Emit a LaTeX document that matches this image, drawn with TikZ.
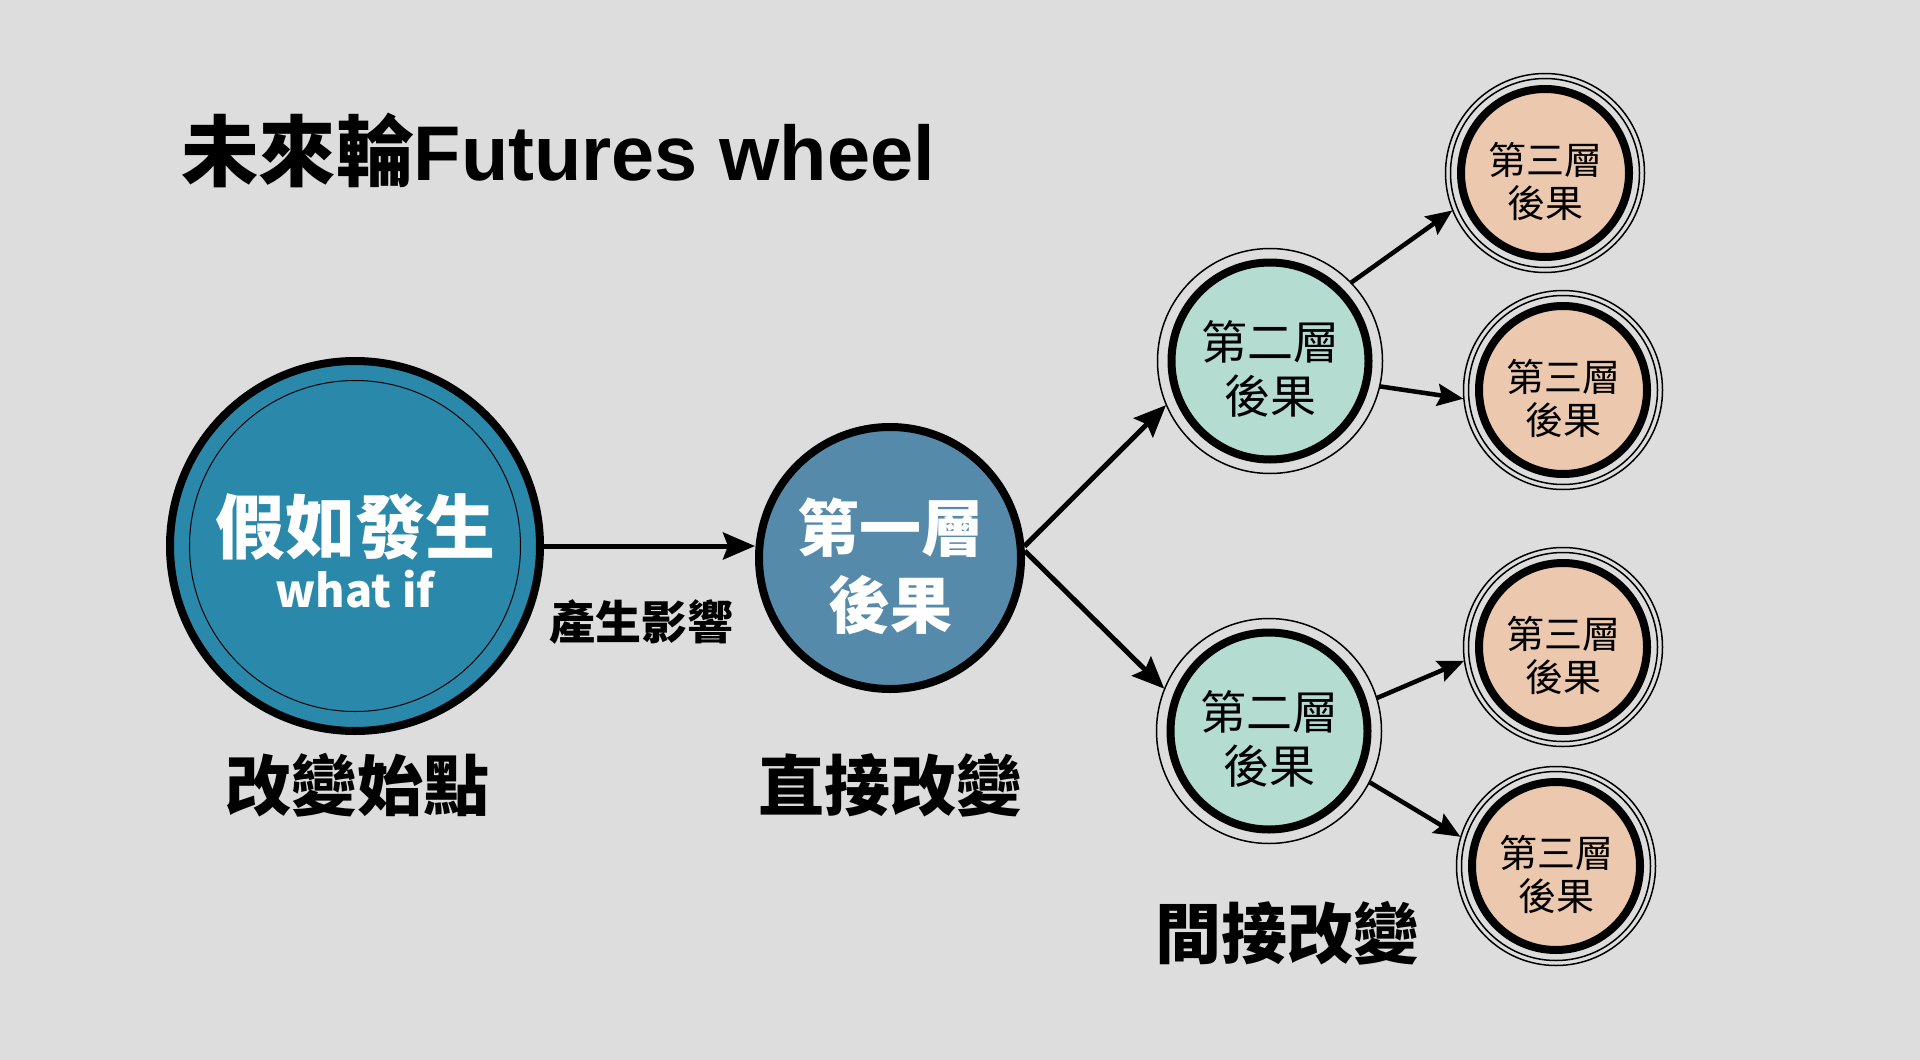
\documentclass[tikz,border=0pt]{standalone}
\usepackage{fontspec}
\setmainfont{Liberation Sans}
\newfontfamily\cjk{Noto Sans CJK TC}
\usetikzlibrary{arrows.meta,backgrounds}
\definecolor{bgc}{RGB}{221,221,221}
\definecolor{bigfill}{RGB}{42,137,171}
\definecolor{firstfill}{RGB}{86,138,171}
\definecolor{secfill}{RGB}{180,220,208}
\definecolor{thirdfill}{RGB}{235,200,174}
\tikzset{
  wheel/.style={circle, inner sep=0pt, outer sep=0pt},
  wtxt/.style={align=center, inner sep=0pt},
  bigc/.style={wheel, minimum size=378pt,
    label={[wtxt, text=white, yshift=-5pt]center:#1}},
  firstc/.style={wheel, minimum size=270pt,
    label={[wtxt, text=white, yshift=-8pt,
      font=\cjk\bfseries\fontsize{62}{77}\selectfont]center:#1}},
  secc/.style={wheel, minimum size=226pt,
    label={[wtxt, yshift=-8pt, font=\cjk\fontsize{46}{54}\selectfont]center:#1}},
  thirdc/.style={wheel, minimum size=200pt,
    label={[wtxt, yshift=-8pt, font=\cjk\fontsize{38}{43}\selectfont]center:#1}},
  lbl/.style={inner sep=0pt, font=\cjk\bfseries\fontsize{66}{70}\selectfont},
  arr/.style={line width=5pt, -{Stealth[length=32pt,width=27pt,inset=5pt]}},
  arrs/.style={line width=4.5pt, -{Stealth[length=26pt,width=22pt,inset=4pt]}},
}
\begin{document}
\begin{tikzpicture}[x=1pt,y=-1pt]
\useasboundingbox (0,0) rectangle (1920,1060);

% title
\node[anchor=base west, inner sep=0pt, font=\bfseries\fontsize{77.5}{80}\selectfont] (title) at (181,180) {{\cjk 未來輪}Futures wheel};

% nodes
\node[bigc={{\cjk\bfseries\fontsize{70}{56}\selectfont 假如發生}\\[9pt]{\cjk\bfseries\fontsize{45}{56}\selectfont what if}}] (b) at (355,546) {};
\node[firstc={第一層\\後果}] (f) at (890,558) {};
\node[secc={第二層\\後果}] (s1) at (1270,361) {};
\node[secc={第二層\\後果}] (s2) at (1269,731) {};
\node[thirdc={第三層\\後果}] (t1) at (1545,173) {};
\node[thirdc={第三層\\後果}] (t2) at (1563,390) {};
\node[thirdc={第三層\\後果}] (t3) at (1563,647) {};
\node[thirdc={第三層\\後果}] (t4) at (1556,866) {};

% labels
\node[lbl, font=\cjk\bfseries\fontsize{46}{50}\selectfont] (effect) at (641,622) {產生影響};
\node[lbl] (l1) at (357,785) {改變始點};
\node[lbl] (l2) at (890,785) {直接改變};
\node[lbl] (l3) at (1287,933) {間接改變};

% rings
\begin{scope}[on background layer]
\fill[bgc] (0,0) rectangle (1920,1060);
\draw[line width=8pt, fill=bigfill] (b.center) circle[radius=185pt];
\draw[line width=1pt] (b.center) circle[radius=165.5pt];
\draw[line width=8pt, fill=firstfill] (f.center) circle[radius=131pt];
\foreach \n in {s1,s2} {
  \draw[line width=1.5pt] (\n.center) circle[radius=112.5pt];
  \draw[line width=8pt, fill=secfill] (\n.center) circle[radius=98.5pt];
}
\foreach \n in {t1,t2,t3,t4} {
  \draw[line width=1.5pt] (\n.center) circle[radius=99.5pt];
  \draw[line width=1.5pt] (\n.center) circle[radius=94.5pt];
  \draw[line width=8pt, fill=thirdfill] (\n.center) circle[radius=84pt];
}
\end{scope}

% connectors
\draw[arr] (b.east) -- (b.east -| f.west);
\draw[arr] (f.5) -- (s1.203);
\draw[arr] (f.3) -- (s2.158);
\draw[arrs] (s1.44) -- (t1.202);
\draw[arrs] (s1.-13) -- (t2.185);
\draw[arrs] (s2.17) -- (t3.188);
\draw[arrs] (s2.-27) -- (t4.163);
\end{tikzpicture}
\end{document}
